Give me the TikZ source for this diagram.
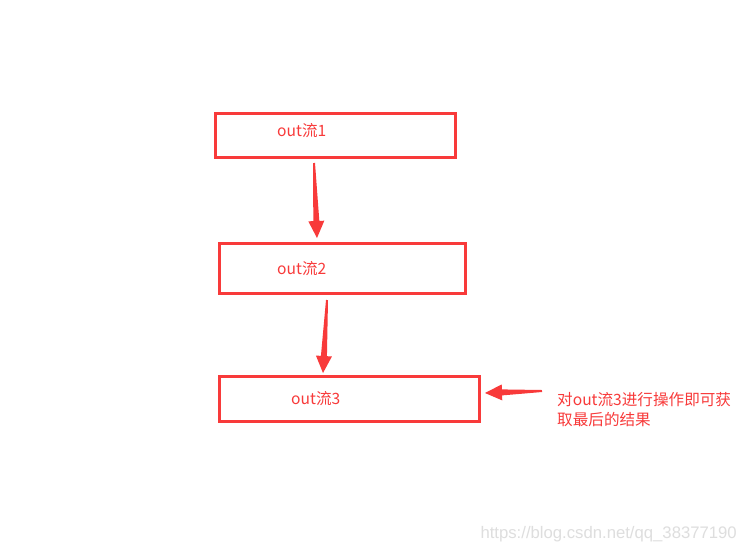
\documentclass[tikz,border=0pt]{standalone}
\usepackage{fontspec}
\setmainfont{Noto Sans CJK SC}
\newfontfamily\wmfont{Liberation Sans}
\usetikzlibrary{calc}
\definecolor{boxred}{RGB}{248,58,58}
\definecolor{wmgray}{RGB}{222,222,222}
% wedge shaped arrow from #1 to #2
\newcommand\wedgearrow[2]{%
\fill[boxred] ($(#1)!1pt!90:(#2)$) -- ($(#1)!1pt!-90:(#2)$)
 -- ($(#2)!17pt!(#1)!3pt!90:(#1)$) -- ($(#2)!17pt!(#1)!8pt!90:(#1)$)
 -- (#2) -- ($(#2)!17pt!(#1)!8pt!-90:(#1)$) -- ($(#2)!17pt!(#1)!3pt!-90:(#1)$) -- cycle;}
\begin{document}
\begin{tikzpicture}[x=1pt,y=-1pt,
 stream/.style={draw=boxred,line width=3pt,inner sep=0pt},
 txt/.style={text=boxred,font=\fontsize{15.6}{20}\selectfont,inner sep=0pt,anchor=west}]
\useasboundingbox[fill=white] (0,0) rectangle (744,552);
\node[stream,minimum width=240pt,minimum height=44pt] (b1) at (335,135) {};
\node[stream,minimum width=246pt,minimum height=50pt] (b2) at (342,268) {};
\node[stream,minimum width=260pt,minimum height=45pt] (b3) at (349,398.5) {};
\node[txt] (t1) at (277,131) {out流1};
\node[txt] (t2) at (277,269) {out流2};
\node[txt] (t3) at (291,399) {out流3};
\node[txt,align=left,anchor=north west] (note) at (557,392) {对out流3进行操作即可获\\取最后的结果};
\node[text=wmgray,font=\wmfont\fontsize{16.7}{20}\selectfont,inner sep=0pt,anchor=east] (wm) at (737,534) {https://blog.csdn.net/qq\_38377190};
\coordinate (a1s) at (314,163);
\coordinate (a1e) at (317,238);
\coordinate (a2s) at (327,300);
\coordinate (a2e) at (323,373);
\coordinate (a3s) at (542,391);
\coordinate (a3e) at (485,393);
\wedgearrow{a1s}{a1e}
\wedgearrow{a2s}{a2e}
\wedgearrow{a3s}{a3e}
\end{tikzpicture}
\end{document}
